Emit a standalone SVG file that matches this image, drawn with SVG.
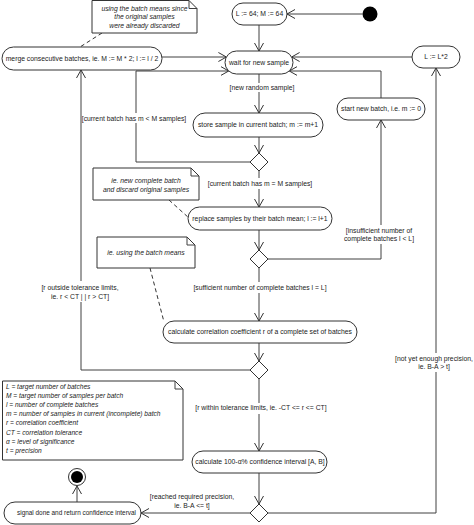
<svg xmlns="http://www.w3.org/2000/svg" width="474" height="525" viewBox="0 0 474 525">
<defs>
<marker id="arr" viewBox="0 0 8 10" refX="8" refY="5" markerWidth="8" markerHeight="10" markerUnits="userSpaceOnUse" orient="auto">
<path d="M0,0.5 L8,5 L0,9.5" fill="none" stroke="#333" stroke-width="1"/>
</marker>
<style>
.n{fill:#fff;stroke:#333;stroke-width:1}
.t{font-family:"Liberation Sans",Arial,sans-serif;font-size:6.8px;fill:#222;text-anchor:middle}
.i{font-family:"Liberation Sans",Arial,sans-serif;font-size:6.8px;fill:#222;font-style:italic;text-anchor:middle}
.lg{font-family:"Liberation Sans",Arial,sans-serif;font-size:6.6px;fill:#222;font-style:italic}
.c{fill:none;stroke:#404040;stroke-width:1}
.a{fill:none;stroke:#404040;stroke-width:1;marker-end:url(#arr)}
.d{fill:none;stroke:#333;stroke-width:1;stroke-dasharray:4,3}
</style>
</defs>
<rect width="474" height="525" fill="#fff"/>

<g id="connectors">
<path class="a" d="M362.5,14 L287,14"/>
<path class="a" d="M259,25 L259,51"/>
<path class="a" d="M162,57 L226.4,57"/>
<path class="a" d="M412,57 L291.6,57"/>
<path class="a" d="M381,98 L381,71 L289.3,71"/>
<path class="c" d="M259,74 L259,83"/>
<path class="a" d="M259,92 L259,113"/>
<path class="a" d="M259,137 L259,153"/>
<path class="c" d="M250,162 L136,162 L136,123"/>
<path class="a" d="M136,113 L136,71 L228.7,71"/>
<path class="c" d="M259,171 L259,178"/>
<path class="a" d="M259,189 L259,207"/>
<path class="a" d="M259,230 L259,250"/>
<path class="c" d="M268,259 L381,259 L381,244"/>
<path class="a" d="M381,225 L381,120"/>
<path class="c" d="M259,268 L259,282"/>
<path class="a" d="M259,293 L259,321"/>
<path class="a" d="M259,343 L259,361"/>
<path class="c" d="M250,370 L81,370 L81,302"/>
<path class="a" d="M81,281 L81,70"/>
<path class="c" d="M259,379 L259,403"/>
<path class="a" d="M259,414 L259,451"/>
<path class="a" d="M259,473 L259,504"/>
<path class="c" d="M268,513 L436,513 L436,372"/>
<path class="a" d="M436,353 L436,68"/>
<path class="a" d="M250,513 L141,513"/>
<path class="a" d="M77,502 L77,486"/>
<path class="d" d="M102,33 L80,47"/>
<path class="d" d="M169,200 L189,218"/>
<path class="d" d="M150,268 L164,322"/>
</g>

<g id="labels">
<text class="t" x="262" y="89.5">[new random sample]</text>
<text class="t" x="134" y="120.5">[current batch has m &lt; M samples]</text>
<text class="t" x="260" y="185.5">[current batch has m = M samples]</text>
<text class="t" x="379" y="232.5">[insufficient number of</text>
<text class="t" x="379" y="240.5">complete batches l &lt; L]</text>
<text class="t" x="80" y="289.5">[r outside tolerance limits,</text>
<text class="t" x="80" y="298.5">ie. r &lt; CT | | r &gt; CT]</text>
<text class="t" x="260" y="289.5">[sufficient number of complete batches l = L]</text>
<text class="t" x="261" y="409.5">[r within tolerance limits, ie. -CT &lt;= r &lt;= CT]</text>
<text class="t" x="434" y="360.5">[not yet enough precision,</text>
<text class="t" x="434" y="368.5">ie. B-A &gt; t]</text>
<text class="t" x="192" y="499">[reached required precision,</text>
<text class="t" x="192" y="508">ie. B-A &lt;= t]</text>
</g>

<g id="start"><circle cx="370" cy="14" r="7.5" fill="#000"/></g>

<g id="init"><rect class="n" x="232" y="3" width="55" height="22" rx="11"/><text class="t" x="259.5" y="16.4">L := 64; M := 64</text></g>

<g id="wait"><rect class="n" x="225" y="51" width="68" height="23" rx="11.5"/><text class="t" x="259" y="64.9">wait for new sample</text></g>

<g id="merge"><rect class="n" x="2" y="47" width="160" height="23" rx="11.5"/><text class="t" x="82" y="60.9">merge consecutive batches, ie. M := M * 2; l := l / 2</text></g>

<g id="double"><rect class="n" x="412" y="46" width="48" height="22" rx="11"/><text class="t" x="436" y="59.4">L := L*2</text></g>

<g id="store"><rect class="n" x="193" y="113" width="130" height="24" rx="12"/><text class="t" x="258" y="127.4">store sample in current batch; m := m+1</text></g>

<g id="newbatch"><rect class="n" x="337" y="98" width="88" height="22" rx="11"/><text class="t" x="381" y="111.4">start new batch, i.e. m := 0</text></g>

<g id="dec1"><path class="n" d="M259,153 L268,162 L259,171 L250,162 Z"/></g>

<g id="replace"><rect class="n" x="188" y="207" width="144" height="23" rx="11.5"/><text class="t" x="260" y="220.9">replace samples by their batch mean; l := l+1</text></g>

<g id="dec2"><path class="n" d="M259,250 L268,259 L259,268 L250,259 Z"/></g>

<g id="corr"><rect class="n" x="163" y="321" width="194" height="22" rx="11"/><text class="t" x="260" y="334.4">calculate correlation coefficient r of a complete set of batches</text></g>

<g id="dec3"><path class="n" d="M259,361 L268,370 L259,379 L250,370 Z"/></g>

<g id="conf"><rect class="n" x="192" y="451" width="135" height="22" rx="11"/><text class="t" x="260" y="464.4">calculate 100-α% confidence interval [A, B]</text></g>

<g id="dec4"><path class="n" d="M259,504 L268,513 L259,522 L250,513 Z"/></g>

<g id="signal"><rect class="n" x="4" y="502" width="137" height="22" rx="11"/><text class="t" x="76.5" y="515.4" textLength="119" lengthAdjust="spacingAndGlyphs">signal done and return confidence interval</text></g>

<g id="final"><circle cx="77" cy="477" r="8.5" fill="#fff" stroke="#333" stroke-width="1"/><circle cx="77" cy="477" r="6" fill="#000"/></g>

<g id="note1">
<path class="n" d="M92,0.5 L189,0.5 L197,8.5 L197,33 L92,33 Z"/><path class="c" d="M189,0.5 L189,8.5 L197,8.5"/>
<text class="i" x="144.5" y="10.7">using the batch means since</text>
<text class="i" x="144.5" y="19.2">the original samples</text>
<text class="i" x="144.5" y="27.7">were already discarded</text>
</g>

<g id="note2">
<path class="n" d="M93,168 L191,168 L199,176 L199,200 L93,200 Z"/><path class="c" d="M191,168 L191,176 L199,176"/>
<text class="i" x="146" y="182.5">ie. new complete batch</text>
<text class="i" x="146" y="191.5">and discard original samples</text>
</g>

<g id="note3">
<path class="n" d="M97,237 L187,237 L195,245 L195,268 L97,268 Z"/><path class="c" d="M187,237 L187,245 L195,245"/>
<text class="i" x="146" y="255">ie. using the batch means</text>
</g>

<g id="legend">
<path class="n" d="M2.5,381 L175,381 L183,389 L183,460 L2.5,460 Z"/><path class="c" d="M175,381 L175,389 L183,389"/>
<text class="lg" x="6" y="388.5">L = target number of batches</text>
<text class="lg" x="6" y="397.7">M = target number of samples per batch</text>
<text class="lg" x="6" y="406.9">l = number of complete batches</text>
<text class="lg" x="6" y="416.1">m = number of samples in current (incomplete) batch</text>
<text class="lg" x="6" y="425.3">r = correlation coefficient</text>
<text class="lg" x="6" y="434.5">CT = correlation tolerance</text>
<text class="lg" x="6" y="443.7">α = level of significance</text>
<text class="lg" x="6" y="452.9">t = precision</text>
</g>
</svg>
